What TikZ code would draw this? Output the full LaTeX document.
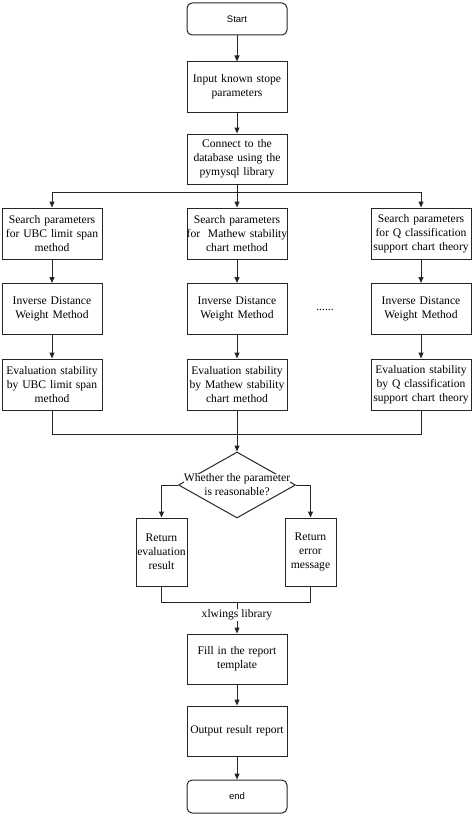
\documentclass[tikz,border=0pt]{standalone}
\usepackage{fontspec}
\setmainfont{Liberation Serif}
\newfontfamily\sansf{Liberation Sans}
\usetikzlibrary{arrows.meta,shapes.geometric}
\begin{document}
\begin{tikzpicture}[x=1pt,y=-1pt,line width=1pt,
  txt/.style={font=\fontsize{11.6}{14}\selectfont},
  box/.style={draw=black!85, rectangle, txt, text width=96pt, align=center, inner sep=2pt, minimum height=51pt},
  smallbox/.style={draw=black!85, rectangle, txt, text width=47pt, align=center, inner sep=2pt, minimum height=68pt},
  term/.style={draw=black!85, rounded corners=5pt, font=\sansf\fontsize{9.5}{11}\selectfont, minimum width=100pt, minimum height=32pt, inner sep=0},
  arr/.style={draw=black!85, -{Triangle[length=6pt,width=5pt]}},
  ln/.style={draw=black!85}]
\useasboundingbox (0,0) rectangle (474,816);
\setlength\fboxsep{0pt}
% top
\node[term] (start) at (237,19) {Start};
\node[box, minimum height=50pt] (input) at (237,87) {Input known stope\\parameters};
\node[box, minimum height=50pt] (conn) at (237,159) {Connect to the\\database using the\\pymysql library};
\coordinate (bus1) at (237,192);
% columns
\node[box] (s1) at (52,233.5) {Search parameters\\for UBC limit span\\method};
\node[box] (s2) at (237,233.5) {Search parameters\\\makebox[0pt]{for\ \ Mathew stability}\\chart method};
\node[box] (s3) at (421,233.5) {Search parameters\\for Q classification\\support chart theory};
\node[box] (i1) at (52,309) {Inverse Distance\\Weight Method};
\node[box] (i2) at (237,309) {Inverse Distance\\Weight Method};
\node[box] (i3) at (421,309) {Inverse Distance\\Weight Method};
\node[txt] (dots) at (325,310) {......};
\node[box] (e1) at (52,384.5) {Evaluation stability\\by UBC limit span\\method};
\node[box] (e2) at (237,384.5) {Evaluation stability\\by Mathew stability\\chart method};
\node[box] (e3) at (421,384.5) {Evaluation stability\\by Q classification\\support chart theory};
\coordinate (bus2) at (237,434);
% decision
\node[draw=black!85, diamond, minimum width=117pt, minimum height=66pt, inner sep=0] (d) at (237,485) {};
\node[txt, align=center, inner sep=0] (dq) at (237,485) {\colorbox{white}{Whether the parameter}\\is reasonable?};
\node[smallbox] (r1) at (161.5,552) {Return\\\makebox[0pt]{evaluation}\\result};
\node[smallbox] (r2) at (310.5,552) {Return\\error\\message};
\coordinate (bus3) at (237,602);
% bottom
\node[box, minimum height=50pt] (fillt) at (237,659) {Fill in the report\\template};
\node[box, minimum height=50pt] (out) at (237,731) {Output result report};
\node[term, minimum height=33pt] (end) at (237,796.5) {end};
% connectors
\draw[arr] (start) -- (input);
\draw[arr] (input) -- (conn);
\draw[ln] (conn) -- (bus1);
\draw[arr] (bus1) -| (s1.north);
\draw[arr] (bus1) -| (s3.north);
\draw[arr] (bus1) -- (s2.north);
\foreach \k in {1,2,3}{
  \draw[arr] (s\k) -- (i\k);
  \draw[arr] (i\k) -- (e\k);
}
\draw[ln] (e1.south) |- (bus2);
\draw[ln] (e3.south) |- (bus2);
\draw[arr] (e2.south) -- (d.north);
\draw[arr] (d.west) -| (r1.north);
\draw[arr] (d.east) -| (r2.north);
\draw[ln] (r1.south) |- (bus3);
\draw[ln] (r2.south) |- (bus3);
\draw[arr] (bus3) -- (fillt.north);
\node[txt, fill=white, inner sep=1pt] (xl) at (237,615) {xlwings library};
\draw[arr] (fillt) -- (out);
\draw[arr] (out) -- (end);
\end{tikzpicture}
\end{document}
